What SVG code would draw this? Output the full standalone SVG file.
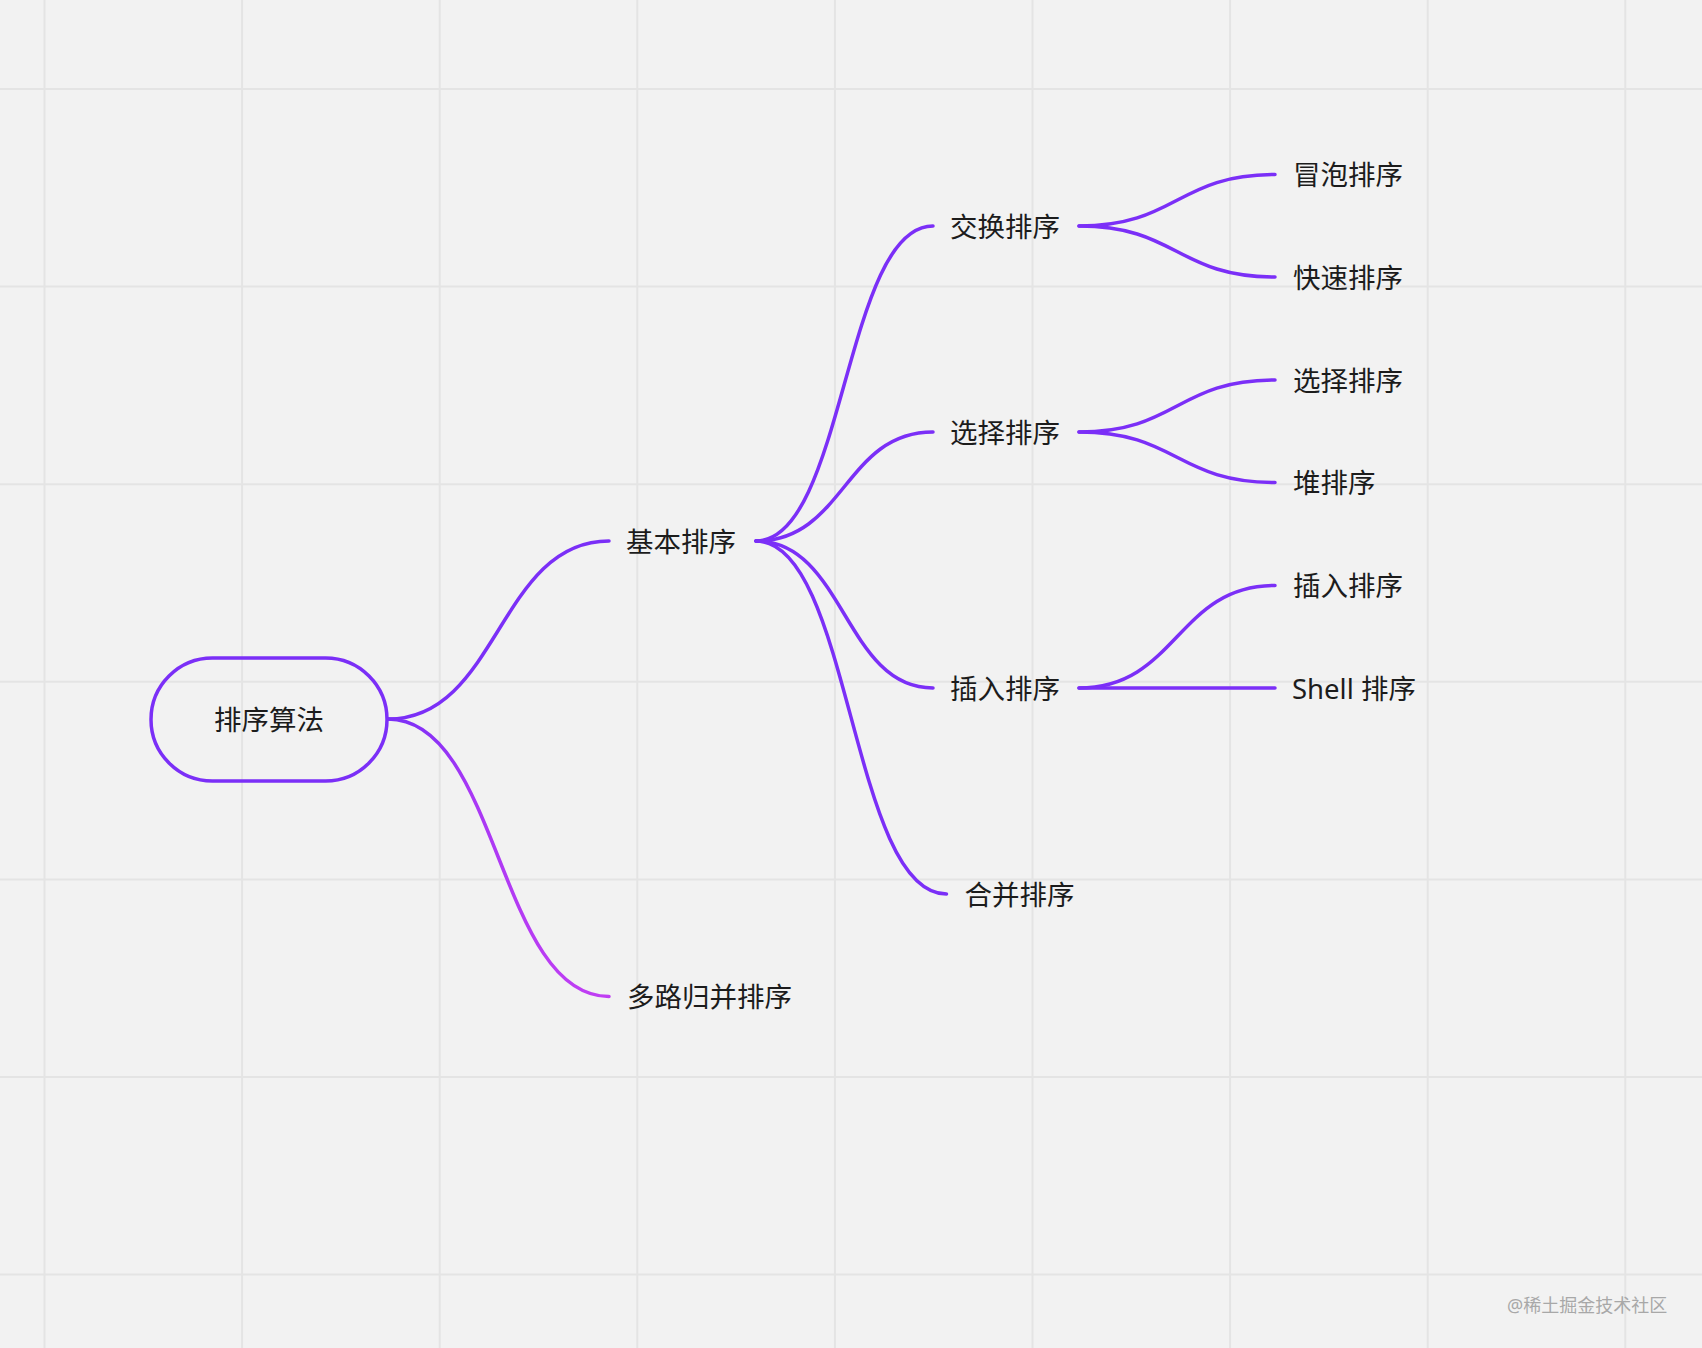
<svg xmlns="http://www.w3.org/2000/svg" width="1702" height="1348" viewBox="0 0 1702 1348">
<defs>
<style>
.grid line{stroke:#e4e4e4;stroke-width:2}
.edge{fill:none;stroke:#7b2ff7;stroke-width:3.5;stroke-linecap:round}
.t{font-family:"Noto Sans","Noto Sans CJK SC",sans-serif;font-size:27.5px;fill:#1c1c1c;dominant-baseline:central}
.wm{font-family:"Noto Sans","Noto Sans CJK SC",sans-serif;font-size:18px;fill:#a8a8a8;dominant-baseline:central}
</style>
<linearGradient id="g1" gradientUnits="userSpaceOnUse" x1="388" y1="719" x2="609" y2="996">
<stop offset="0" stop-color="#7b2ff7"/>
<stop offset="0.3" stop-color="#a838f5"/>
<stop offset="1" stop-color="#c03ef3"/>
</linearGradient>
</defs>
<rect x="0" y="0" width="1702" height="1348" fill="#f2f2f2"/>
<g class="grid">
<line x1="44.5" y1="0" x2="44.5" y2="1348"/>
<line x1="242.1" y1="0" x2="242.1" y2="1348"/>
<line x1="439.7" y1="0" x2="439.7" y2="1348"/>
<line x1="637.3" y1="0" x2="637.3" y2="1348"/>
<line x1="834.9" y1="0" x2="834.9" y2="1348"/>
<line x1="1032.5" y1="0" x2="1032.5" y2="1348"/>
<line x1="1230.1" y1="0" x2="1230.1" y2="1348"/>
<line x1="1427.7" y1="0" x2="1427.7" y2="1348"/>
<line x1="1625.3" y1="0" x2="1625.3" y2="1348"/>
<line x1="0" y1="89" x2="1702" y2="89"/>
<line x1="0" y1="286.6" x2="1702" y2="286.6"/>
<line x1="0" y1="484.2" x2="1702" y2="484.2"/>
<line x1="0" y1="681.8" x2="1702" y2="681.8"/>
<line x1="0" y1="879.4" x2="1702" y2="879.4"/>
<line x1="0" y1="1077" x2="1702" y2="1077"/>
<line x1="0" y1="1274.6" x2="1702" y2="1274.6"/>
</g>
<g id="connectors">
<path class="edge" d="M388 719 C498.5 719 498.5 541 609 541"/>
<path class="edge" style="stroke:url(#g1)" d="M388 719 C498.5 719 498.5 996.5 609 996.5"/>
<path class="edge" d="M756 541 C844.5 541 844.5 226 933 226"/>
<path class="edge" d="M756 541 C844.5 541 844.5 432 933 432"/>
<path class="edge" d="M756 541 C844.5 541 844.5 688 933 688"/>
<path class="edge" d="M756 541 C851 541 851 894 946.5 894"/>
<path class="edge" d="M1079 226 C1177 226 1177 174.5 1275 174.5"/>
<path class="edge" d="M1079 226 C1177 226 1177 277 1275 277"/>
<path class="edge" d="M1079 432 C1177 432 1177 380 1275 380"/>
<path class="edge" d="M1079 432 C1177 432 1177 482.5 1275 482.5"/>
<path class="edge" d="M1079 688 C1177 688 1177 585.5 1275 585.5"/>
<path class="edge" d="M1079 688 L1275 688"/>
</g>
<g id="root">
<rect x="151" y="658" width="236" height="123" rx="61.5" ry="61.5" fill="none" stroke="#7b2ff7" stroke-width="3.5"/>
<text class="t" x="269" y="719" text-anchor="middle">排序算法</text>
</g>
<g id="basic"><text class="t" x="626" y="541">基本排序</text></g>
<g id="multiway"><text class="t" x="627" y="996.5">多路归并排序</text></g>
<g id="exchange"><text class="t" x="950" y="226">交换排序</text></g>
<g id="selection"><text class="t" x="950" y="432">选择排序</text></g>
<g id="insertion"><text class="t" x="950" y="688">插入排序</text></g>
<g id="merge"><text class="t" x="964.5" y="894">合并排序</text></g>
<g id="bubble"><text class="t" x="1293" y="174.5">冒泡排序</text></g>
<g id="quick"><text class="t" x="1293" y="277">快速排序</text></g>
<g id="selection2"><text class="t" x="1293" y="380">选择排序</text></g>
<g id="heap"><text class="t" x="1293" y="482.5">堆排序</text></g>
<g id="insertion2"><text class="t" x="1293" y="585.5">插入排序</text></g>
<g id="shell"><text class="t" x="1292" y="688">Shell 排序</text></g>
<text class="wm" x="1507" y="1305">@稀土掘金技术社区</text>
</svg>
